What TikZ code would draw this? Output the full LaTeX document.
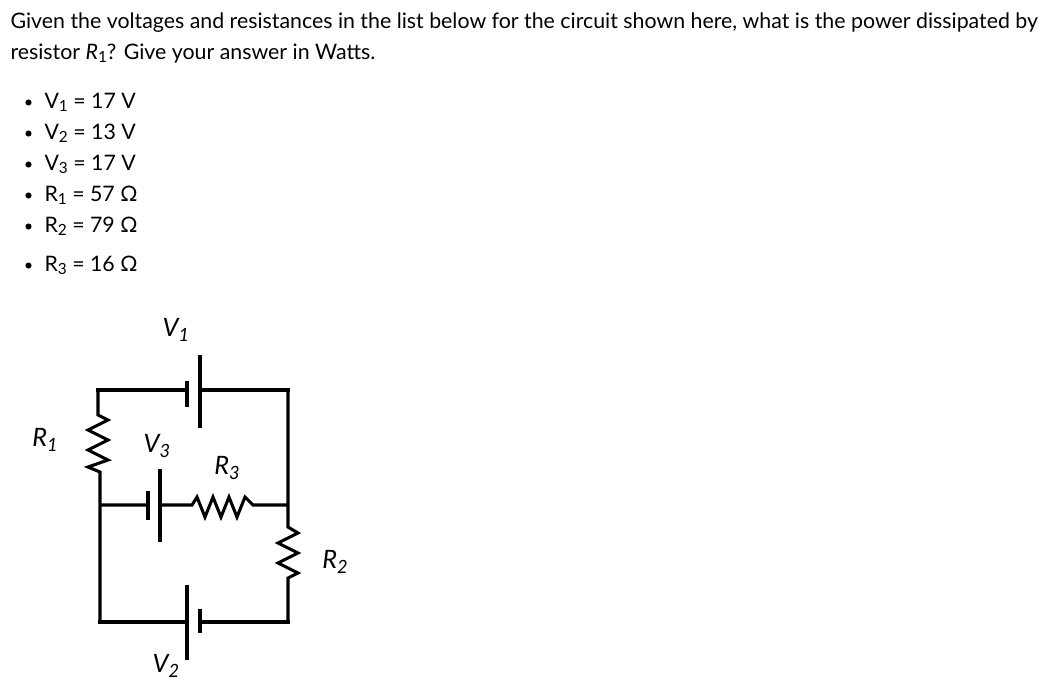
\documentclass[tikz,border=0pt]{standalone}
\usepackage{fontspec}
\setmainfont{Lato}
\newcommand{\sbs}[1]{\raisebox{-0.35ex}{\fontsize{0.72em}{1em}\selectfont #1}}
\begin{document}
\begin{tikzpicture}[x=0.75pt,y=-0.75pt,line width=2.3pt,
  txt/.style={anchor=base west,inner sep=0pt,font=\fontsize{16pt}{19pt}\selectfont},
  lbl/.style={inner sep=0pt,font=\fontsize{19pt}{22pt}\selectfont\itshape},
  wire/.style={line cap=rect}]
\useasboundingbox (0,0) rectangle (1055,694);
\node[txt] (t1) at (9,28) {Given the voltages and resistances in the list below for the circuit shown here, what is the power dissipated by};
\node[txt] (t2) at (9,59) {resistor \textit{R}\sbs{1}? Give your answer in Watts.};
\foreach \y/\s [count=\i] in {108/{V\sbs{1} = 17 V},139/{V\sbs{2} = 13 V},170/{V\sbs{3} = 17 V},201/{R\sbs{1} = 57 Ω},232/{R\sbs{2} = 79 Ω},271/{R\sbs{3} = 16 Ω}}{
  \fill (28.5,\y-5.5) circle (2.3pt);
  \node[txt] (l\i) at (43,\y) {\s};
}
\coordinate (tl) at (98,390); \coordinate (tr) at (288,390);
\coordinate (ml) at (100,505); \coordinate (mr) at (288,505);
\coordinate (bl) at (100,622); \coordinate (br) at (288,622);
\draw[wire] (tl) -- (187,390) (200,390) -- (tr);
\draw (187,381) -- (187,407);
\draw (200,355) -- (200,428);
\draw[wire] (tl) -- (98,415) -- (108,420) -- (88,430) -- (108,440) -- (88,450) -- (108,460) -- (88,467) -- (100,472) -- (ml) -- (bl);
\draw (ml) -- (148,505) (160,505) -- (192,505) -- (197,497) -- (205,517) -- (213,497) -- (221,517) -- (229,497) -- (237,517) -- (245,497) -- (253,505) -- (mr);
\draw (148,491) -- (148,520);
\draw (160,469) -- (160,542);
\draw[wire] (tr) -- (mr) -- (288,527) -- (298,533) -- (278,543) -- (298,553) -- (278,563) -- (298,573) -- (288,578) -- (288,587) -- (br);
\draw[wire] (bl) -- (187,622) (200,622) -- (br);
\draw (187,585) -- (187,660);
\draw (200,609) -- (200,633);
\node[lbl] (v1) at (176,330) {V\sbs{1}};
\node[lbl] (r1) at (45,440) {R\sbs{1}};
\node[lbl] (v3) at (157,446) {V\sbs{3}};
\node[lbl] (r3) at (227,468) {R\sbs{3}};
\node[lbl] (r2) at (335,562) {R\sbs{2}};
\node[lbl] (v2) at (166,666) {V\sbs{2}};
\end{tikzpicture}
\end{document}
